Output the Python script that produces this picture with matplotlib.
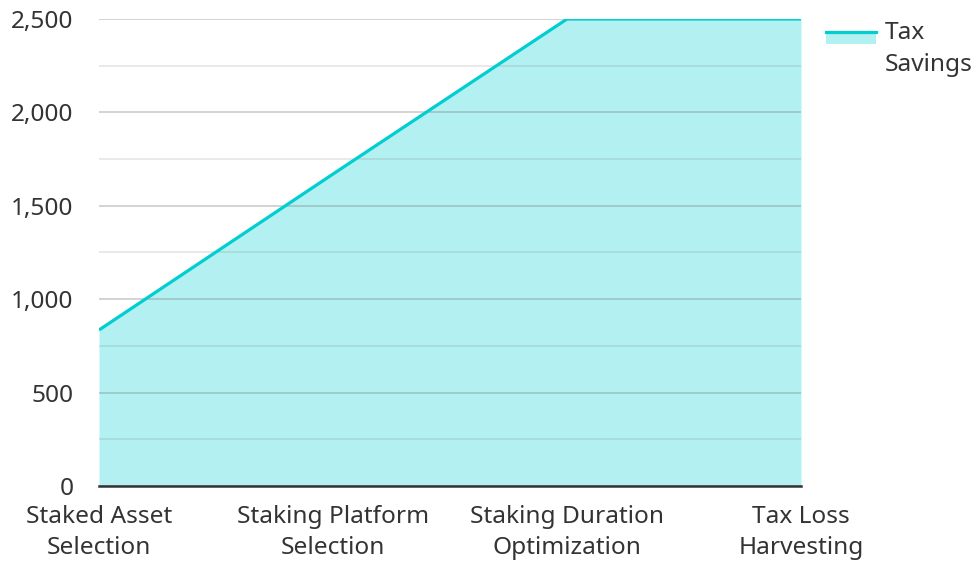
import matplotlib
matplotlib.use("Agg")
import matplotlib.pyplot as plt
from matplotlib.lines import Line2D
from matplotlib.ticker import MultipleLocator, FuncFormatter

categories = ["Staked Asset\nSelection", "Staking Platform\nSelection",
              "Staking Duration\nOptimization", "Tax Loss\nHarvesting"]
tax_savings = [835, 1670, 2500, 2500]
y_ticks = [0, 500, 1000, 1500, 2000, 2500]

plt.rcParams['font.family'] = ['Noto Sans', 'DejaVu Sans']
line_color = '#00CED1'
text_color = '#333333'
fs = 17.6

fig = plt.figure(figsize=(9.77, 5.62), dpi=100)
ax = fig.add_axes([99/977, 1-486/562, (801-99)/977, (486-19)/562])

x = list(range(len(categories)))
ax.fill_between(x, tax_savings, 0, color=line_color, alpha=0.3, linewidth=0, zorder=1)
ax.plot(x, tax_savings, color=line_color, linewidth=2.3, zorder=3, solid_capstyle='butt')

ax.set_xlim(0, len(categories) - 1)
ax.set_ylim(0, 2500)
ax.set_yticks(y_ticks)
ax.yaxis.set_minor_locator(MultipleLocator(250))
ax.yaxis.set_major_formatter(FuncFormatter(lambda v, p: f"{int(v):,}"))
ax.set_xticks(x)
ax.set_xticklabels(categories, linespacing=1.36)

ax.grid(axis='y', which='major', color=(0.5, 0.5, 0.5), alpha=0.4, linewidth=1.2, zorder=2)
ax.grid(axis='y', which='minor', color=(0.5, 0.5, 0.5), alpha=0.2, linewidth=1.2, zorder=2)
ax.set_axisbelow(False)

for s in ['top', 'right', 'left']:
    ax.spines[s].set_visible(False)
ax.spines['bottom'].set_color(text_color)
ax.spines['bottom'].set_linewidth(1.8)
ax.spines['bottom'].set_zorder(4)

ax.tick_params(axis='both', which='both', length=0, labelsize=fs, colors=text_color)
ax.tick_params(axis='y', pad=18.5)
ax.tick_params(axis='x', pad=14)

# legend
fig.patches.append(plt.Rectangle((826/977, 1-44/562), 50/977, 12/562,
                                 transform=fig.transFigure, color=line_color, alpha=0.3, linewidth=0))
fig.lines.append(Line2D([826/977, 876/977], [1-31.5/562, 1-31.5/562],
                        transform=fig.transFigure, color=line_color, linewidth=2.3))
fig.text(885/977, 1-39/562, "Tax", fontsize=fs, color=text_color,
         va='baseline', ha='left', transform=fig.transFigure)
fig.text(885/977, 1-71/562, "Savings", fontsize=fs, color=text_color,
         va='baseline', ha='left', transform=fig.transFigure)

fig.savefig("out.png", dpi=100)
